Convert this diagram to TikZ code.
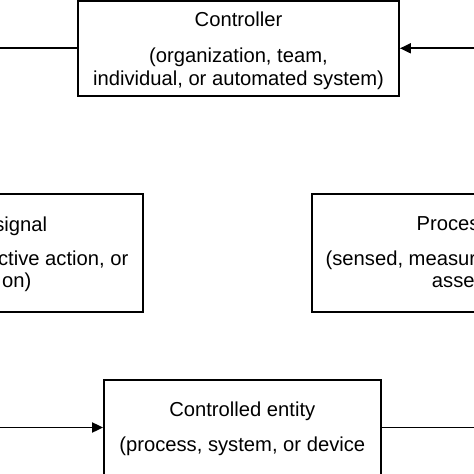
\documentclass[tikz,border=0pt]{standalone}
\usepackage{fontspec}
\setmainfont{Liberation Sans}
\usetikzlibrary{arrows.meta}
\tikzset{
  >={Triangle[length=11pt,width=10pt]},
}
\tikzstyle{box}=[draw,line width=1.9pt,inner sep=0pt]
\tikzstyle{every node}=[font=\fontsize{20.2}{22.3}\selectfont]
\tikzstyle{lbl}=[inner sep=0pt,anchor=base]

\begin{document}
\begin{tikzpicture}[x=1pt,y=-1pt,line width=1.9pt]
  \useasboundingbox (0,0) rectangle (474,474);
  % boxes
  \node[box,minimum width=321pt,minimum height=95.5pt] (ctrl) at (238.5,48.3) {};
  \node[box,minimum width=260pt,minimum height=118.3pt] (sig) at (13.3,253.2) {};
  \node[box,minimum width=260pt,minimum height=118.3pt] (fbk) at (441.7,253.2) {};
  \node[box,minimum width=276.5pt,minimum height=95pt] (ent) at (242.3,427.5) {};
  % texts
  \node[lbl] at (238.5,26.7) {Controller};
  \node[lbl] at (238.5,62.7) {(organization, team,};
  \node[lbl] at (238.5,85) {individual, or automated system)};
  \node[lbl,anchor=base east] at (48,231.5) {signal};
  \node[lbl,anchor=base east] at (129.3,265) {ctive action, or};
  \node[lbl,anchor=base east] at (32.3,287.3) {on)};
  \node[lbl,anchor=base west] at (415.7,230) {Proces};
  \node[lbl,anchor=base west] at (324.7,265) {(sensed, measur};
  \node[lbl,anchor=base west] at (431,287.3) {asse};
  \node[lbl] at (242.3,416.7) {Controlled entity};
  \node[lbl] at (242.3,451.7) {(process, system, or device};
  % loose ends
  \coordinate (outL) at (-4,48.3);
  \coordinate (inR) at (478,48.3);
  \coordinate (inL) at (-4,427.5);
  \coordinate (outR) at (478,427.5);
  \draw (ctrl.west) -- (outL);
  \draw[->] (inR) -- (ctrl.east);
  \draw[->] (inL) -- (ent.west);
  \draw (ent.east) -- (outR);
\end{tikzpicture}
\end{document}
